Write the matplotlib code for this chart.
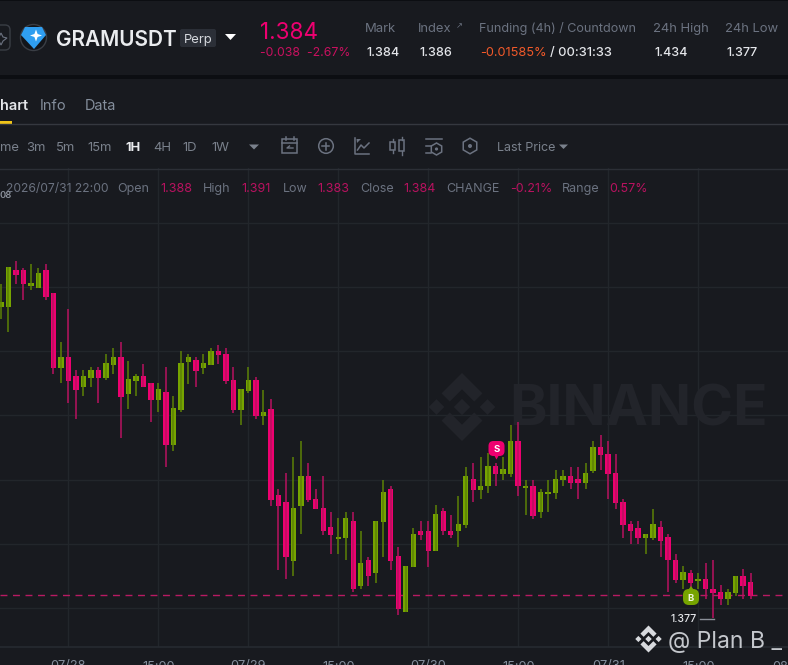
import matplotlib
matplotlib.use("Agg")
import matplotlib.pyplot as plt
from matplotlib.patches import Polygon, Circle, FancyBboxPatch, Rectangle
import numpy as np

plt.rcParams['font.family'] = ['Inter', 'DejaVu Sans']

opens = [1.4739,1.4739,1.4853,1.4853,1.4804,1.4798,1.4853,1.4781,1.4548,1.4582,1.4523,1.4488,1.4518,1.4542,1.4518,1.4557,1.4582,1.4468,1.4507,1.4523,1.4501,1.4448,1.4472,1.4308,1.4417,1.4567,1.4573,
         1.4548,1.4557,1.4601,1.4591,1.4510,1.4417,1.4477,1.4510,1.4398,1.4421,1.4152,1.4131,1.3948,1.4118,1.4212,1.4141,1.4111,1.4052,1.4015,1.4019,1.4071,1.3868,1.3951,1.3909,1.4070,1.4171,1.3962,
         1.3789,1.3929,1.4042,1.4042,1.3978,1.4102,1.4042,1.4039,1.4058,1.4201,1.4169,1.4179,1.4243,1.4219,1.4219,1.4322,1.4175,1.4182,1.4100,1.4155,1.4160,1.4198,1.4212,1.4201,1.4190,1.4228,
         1.4301,1.4281,1.4221,1.4131,1.4061,1.4051,1.4020,1.4020,1.4052,1.4021,1.3950,1.3889,1.3911,1.3886,1.3891,1.3861,1.3851,1.3830,1.3849,1.3902,1.3882]
closes = [1.4752,1.4861,1.4837,1.4808,1.4812,1.4842,1.4768,1.4548,1.4582,1.4507,1.4478,1.4523,1.4542,1.4518,1.4562,1.4582,1.4458,1.4512,1.4523,1.4488,1.4448,1.4482,1.4308,1.4422,1.4562,1.4582,1.4538,
          1.4562,1.4601,1.4588,1.4507,1.4417,1.4481,1.4510,1.4398,1.4411,1.4138,1.4118,1.3959,1.4111,1.4212,1.4138,1.4108,1.4039,1.4029,1.4022,1.4081,1.3859,1.3941,1.3899,1.4071,1.4161,1.3948,1.3799,
          1.3932,1.4032,1.4028,1.3978,1.4092,1.4039,1.4028,1.4062,1.4212,1.4169,1.4182,1.4243,1.4219,1.4232,1.4322,1.4179,1.4182,1.4088,1.4162,1.4162,1.4201,1.4212,1.4189,1.4189,1.4222,1.4302,
          1.4278,1.4219,1.4129,1.4059,1.4039,1.4020,1.4032,1.4061,1.4009,1.3949,1.3889,1.3912,1.3880,1.3891,1.3859,1.3849,1.3830,1.3851,1.3902,1.3869,1.3839]
highs = [1.4809,1.4863,1.4880,1.4860,1.4870,1.4860,1.4870,1.4781,1.4630,1.4730,1.4540,1.4540,1.4551,1.4551,1.4590,1.4610,1.4630,1.4570,1.4529,1.4560,1.4501,1.4501,1.4551,1.4460,1.4601,1.4590,1.4581,
         1.4590,1.4610,1.4620,1.4610,1.4550,1.4481,1.4550,1.4520,1.4479,1.4450,1.4170,1.4220,1.4271,1.4321,1.4251,1.4170,1.4212,1.4100,1.4080,1.4100,1.4100,1.4041,1.3960,1.4071,1.4200,1.4181,1.3991,
         1.3932,1.4050,1.4071,1.4071,1.4120,1.4111,1.4090,1.4150,1.4241,1.4251,1.4271,1.4282,1.4251,1.4271,1.4371,1.4380,1.4200,1.4200,1.4170,1.4200,1.4230,1.4230,1.4241,1.4241,1.4251,1.4321,
         1.4340,1.4320,1.4280,1.4140,1.4071,1.4071,1.4032,1.4110,1.4071,1.4030,1.3970,1.3931,1.3920,1.3911,1.3940,1.3950,1.3871,1.3860,1.3902,1.3921,1.3910]
lows = [1.4700,1.4661,1.4809,1.4759,1.4790,1.4798,1.4759,1.4529,1.4500,1.4439,1.4389,1.4460,1.4489,1.4439,1.4509,1.4529,1.4330,1.4420,1.4460,1.4488,1.4380,1.4410,1.4240,1.4290,1.4410,1.4499,1.4489,
        1.4529,1.4557,1.4560,1.4499,1.4409,1.4370,1.4470,1.4389,1.4370,1.4119,1.3919,1.3890,1.3901,1.4030,1.4130,1.4108,1.4029,1.3969,1.3969,1.3950,1.3850,1.3860,1.3869,1.3880,1.3960,1.3919,1.3779,
        1.3789,1.3929,1.4011,1.3930,1.3978,1.4029,1.4019,1.3990,1.4050,1.4130,1.4140,1.4160,1.4181,1.4200,1.4210,1.4150,1.4091,1.4079,1.4080,1.4100,1.4140,1.4181,1.4170,1.4140,1.4170,1.4220,
        1.4230,1.4140,1.4110,1.4020,1.4001,1.4001,1.3970,1.4011,1.3960,1.3850,1.3880,1.3860,1.3860,1.3860,1.3830,1.3770,1.3810,1.3810,1.3839,1.3830,1.3830]

price_ticks = [1.38,1.40,1.42,1.44,1.46,1.48,1.50]
time_ticks = [9,21,33,45,57,69,81,93]
time_labels = ["07/28","15:00","07/29","15:00","07/30","15:00","07/31","15:00"]
last_price = 1.384

BG = "#181a1f"
RED = "#ee0070"
GREEN = "#76a400"
RED_W = "#b8125f"
GREEN_W = "#5c8206"
GRID = "#22262b"
GREY = "#6b7280"
LIGHT = "#e4e6ea"

fig = plt.figure(figsize=(7.88,6.65),dpi=100,facecolor=BG)
W,H = 788,665

# price area
top,bot = 168,646.5
ax = fig.add_axes([0,(H-bot)/H,1,(bot-top)/H],facecolor=BG,zorder=0)
ax.set_xlim((0-1)/7.5,(788-1)/7.5)
ax.set_ylim(1.38-(bot-608.3)/3214,1.38+(608.3-top)/3214)
for s in ax.spines.values():
    s.set_visible(False)
ax.set_xticks(time_ticks+[105])
ax.set_yticks(price_ticks)
ax.tick_params(length=0,labelleft=False,labelbottom=False)
ax.grid(True,color=GRID,lw=1.0)
ax.set_axisbelow(True)

def pixel_axes(z):
    a = fig.add_axes([0,0,1,1],facecolor="none",zorder=z)
    a.set_xlim(0,W)
    a.set_ylim(H,0)
    a.axis("off")
    return a

wm = pixel_axes(0.5)
ov = pixel_axes(3)

def logo(a,cx,cy,s,color,z=2):
    top_c = [(0,-1),(.6,-.4),(.36,-.16),(0,-.52),(-.36,-.16),(-.6,-.4)]
    for sign in (1,-1):
        a.add_patch(Polygon([(cx+x*s,cy+sign*y*s) for x,y in top_c],fc=color,ec="none",zorder=z))
        a.add_patch(Polygon([(cx+sign*.75*s+x*s,cy+y*s) for x,y in [(-.23,0),(0,-.23),(.23,0),(0,.23)]],fc=color,ec="none",zorder=z))
    a.add_patch(Polygon([(cx+x*s,cy+y*s) for x,y in [(-.24,0),(0,-.24),(.24,0),(0,.24)]],fc=color,ec="none",zorder=z))

logo(wm,462,407,34,"#22242a")
wm.text(509,426,"BINANCE",color="#22242a",fontsize=40.8,fontweight="bold",va="baseline",ha="left")

# candles
cd = fig.add_axes(ax.get_position(),facecolor="none",zorder=1)
cd.set_xlim(ax.get_xlim())
cd.set_ylim(ax.get_ylim())
cd.axis("off")
x = np.arange(len(opens))
o,c,h,l = map(np.array,(opens,closes,highs,lows))
up = c>=o
cd.vlines(x[up],l[up],h[up],color=GREEN_W,lw=1.1)
cd.vlines(x[~up],l[~up],h[~up],color=RED_W,lw=1.1)
cd.bar(x[up],(c-o)[up],bottom=o[up],width=.72,color=GREEN,lw=0)
cd.bar(x[~up],(o-c)[~up],bottom=c[~up],width=.72,color=RED,lw=0)
cd.axhline(last_price,color="#b81a62",lw=1,dashes=(5,4),zorder=0.5)

# header bands
ov.add_patch(Rectangle((0,0),W,1,fc="#0c0e12",ec="none"))
ov.add_patch(Rectangle((0,75),W,4,fc="#0c0e12",ec="none"))
ov.plot([0,W],[123.5,123.5],color="#35383f",lw=1)
ov.plot([0,W],[168.5,168.5],color="#2c2f36",lw=1)
ov.add_patch(Rectangle((0,120.5),12,3,fc="#f0c419",ec="none"))
ov.plot([0,W],[646.5,646.5],color="#262a30",lw=1.2)

def t(px,py,s,size,color=GREY,weight="normal",ha="left"):
    # py is the middle of the capitals, text sits on a baseline so mixed strings line up
    ov.text(px,py+size*.36,s,fontsize=size*.72,color=color,fontweight=weight,ha=ha,va="baseline")

# header
ov.add_patch(FancyBboxPatch((-6,25),16,25,boxstyle="round,pad=0,rounding_size=5",fc="none",ec="#3a3e45",lw=1))
ov.add_patch(Polygon([(-1,37),(1,33),(3,37),(7,38),(3,41),(1,45),(-1,41)],fc="none",ec="#6b7280",lw=.8))
ov.add_patch(Circle((33.5,37.5),13,fc="#12151a",ec="#3a3e45",lw=1))
ov.add_patch(Polygon([(25,27),(42,27),(46,35),(34,49),(21,35)],fc="#2f9ef0",ec="none"))
ov.add_patch(Polygon([(36,29.5),(37.6,34),(42,35.5),(37.6,37),(36,41.5),(34.4,37),(30,35.5),(34.4,34)],fc="white",ec="none"))
t(56,39,"GRAMUSDT",20.8,"#eaecef","semibold")
ov.add_patch(FancyBboxPatch((180,29),36,18,boxstyle="round,pad=0,rounding_size=2",fc="#2b2f37",ec="none"))
t(184,38.5,"Perp",13,"#d5d8dd")
ov.add_patch(Polygon([(225,34),(236,34),(230.5,40)],fc="white",ec="none"))
t(260,30.5,"1.384",22.5,RED)
t(260,51.5,"-0.038  -2.67%",12.3,"#c9105f")
for px,s,v in [(365,"Mark","1.384"),(418,"Index","1.386"),(653,"24h High","1.434"),(725,"24h Low","1.377")]:
    t(px,27,s,13,GREY)
    t(px+1,51,v,12.6,LIGHT,"medium")
ov.text(456,26,"\u2197",fontsize=6,color=GREY,ha="left",va="center",family=["DejaVu Sans"])
t(479,27,"Funding (4h) / Countdown",12.6)
t(480,51,"-0.01585%",12.8,"#f0592a")
t(550,51,"/ 00:31:33",12.8,LIGHT,"medium")

# tabs
t(0,105,"hart",14.5,LIGHT,"semibold")
t(40,105,"Info",14.5,"#848e9c")
t(85,105,"Data",14.5,"#848e9c")

# toolbar
for px,s in [(0,"me"),(26,"3m"),(56,"5m"),(87,"15m"),(153,"4H"),(182,"1D"),(211,"1W")]:
    t(px,146.5,s,13,"#7a818c")
t(125,146.5,"1H",13,"#eaecef","bold")
ov.add_patch(Polygon([(249,144.5),(259,144.5),(254,149.5)],fc="#7a818c",ec="none"))
ic = "#6b7280"
ov.add_patch(Rectangle((282.5,139),15,14,fc="none",ec=ic,lw=1.1))
ov.plot([282.5,297.5],[143,143],color=ic,lw=1.1)
ov.plot([286,286],[137,140],color=ic,lw=1.1)
ov.plot([294,294],[137,140],color=ic,lw=1.1)
ov.plot([293,287,289.5],[148,148,146],color=ic,lw=1)
ov.add_patch(Circle((326,146),7.3,fc="none",ec=ic,lw=1.1))
ov.plot([322.5,329.5],[146,146],color=ic,lw=1.1)
ov.plot([326,326],[142.5,149.5],color=ic,lw=1.1)
ov.plot([355,355,369.5],[138,153.5,153.5],color=ic,lw=1.1)
ov.plot([357.5,361,364,369],[150,145,148,143],color=ic,lw=1.1)
ov.add_patch(Polygon([(356.5,139),(361,139),(357,143)],fc=ic,ec="none"))
for px,y0,y1,y2,y3 in [(393,139,142,150,153),(402,137,140,151,155)]:
    ov.add_patch(Rectangle((px-2.5,y1),5,y2-y1,fc="none",ec=ic,lw=1.1))
    ov.plot([px,px],[y0,y1],color=ic,lw=1)
    ov.plot([px,px],[y2,y3],color=ic,lw=1)
ov.plot([426,442],[138.5,138.5],color=ic,lw=1.1)
ov.plot([426,431],[146,146],color=ic,lw=1.1)
ov.plot([426,431],[153,153],color=ic,lw=1.1)
ang = np.deg2rad(np.arange(30,390,60))
ov.add_patch(Polygon(np.c_[436.5+6*np.cos(ang),149+6*np.sin(ang)],fc="none",ec=ic,lw=1.1))
ov.add_patch(Circle((436.5,149),1.6,fc=ic,ec="none"))
ov.add_patch(Polygon(np.c_[470+7.8*np.sin(ang+np.pi/6),146+7.8*np.cos(ang+np.pi/6)],fc="none",ec=ic,lw=1.1))
ov.add_patch(Circle((470,146),2,fc=ic,ec="none"))
t(497,146.5,"Last Price",12.5,"#7a818c")
ov.add_patch(Polygon([(559,144.5),(568,144.5),(563.5,149)],fc="#7a818c",ec="none"))

# ohlc strip
t(6,187.5,"2026/07/31 22:00",12.1,GREY)
for px,s,col in [(117,"Open",GREY),(160,"1.388","#b8125f"),(203,"High",GREY),(241,"1.391","#b8125f"),
                 (283,"Low",GREY),(317,"1.383","#b8125f"),(360,"Close",GREY),(403,"1.384","#b8125f"),(446,"CHANGE",GREY),
                 (510,"-0.21%","#b8125f"),(562,"Range",GREY),(609,"0.57%","#b8125f")]:
    t(px,187.5,s,12.5,col)
t(-1,195,"08",9.5,"#8a909a","semibold")

# time labels, cut by the bottom edge like the screenshot
for i,s in zip(time_ticks,time_labels):
    ov.text(1+7.5*i,660.5,s,fontsize=9.2,color="#848e9c",ha="center",va="top")
ov.text(772,660.5,"08",fontsize=9.2,color="#848e9c",ha="left",va="top")

# trade markers
ov.add_patch(FancyBboxPatch((488.5,441),16,15,boxstyle="round,pad=0,rounding_size=5",fc=RED,ec="none"))
ov.add_patch(Polygon([(494,455),(499,455),(496.5,459.5)],fc=RED,ec="none"))
t(496.5,448.8,"S",9.5,"white","bold",ha="center")
ov.add_patch(FancyBboxPatch((683,589),16,16,boxstyle="round,pad=0,rounding_size=6",fc="#76a400",ec="none"))
ov.add_patch(Polygon([(688.5,589.5),(693.5,589.5),(691,586)],fc="#76a400",ec="none"))
t(691,597.5,"B",9.5,"#eef5dc","bold",ha="center")
t(697,618.5,"1.377",10.5,LIGHT,"medium",ha="right")
ov.plot([700,714],[618.5,618.5],color="#8a8f98",lw=1)

# name tag bottom right
logo(ov,648.5,639,13.5,"#d8dade",z=5)
t(668,639.5,"@ Plan B _",23,"#c4c7cc")

fig.savefig("out.png",dpi=100,facecolor=BG)
